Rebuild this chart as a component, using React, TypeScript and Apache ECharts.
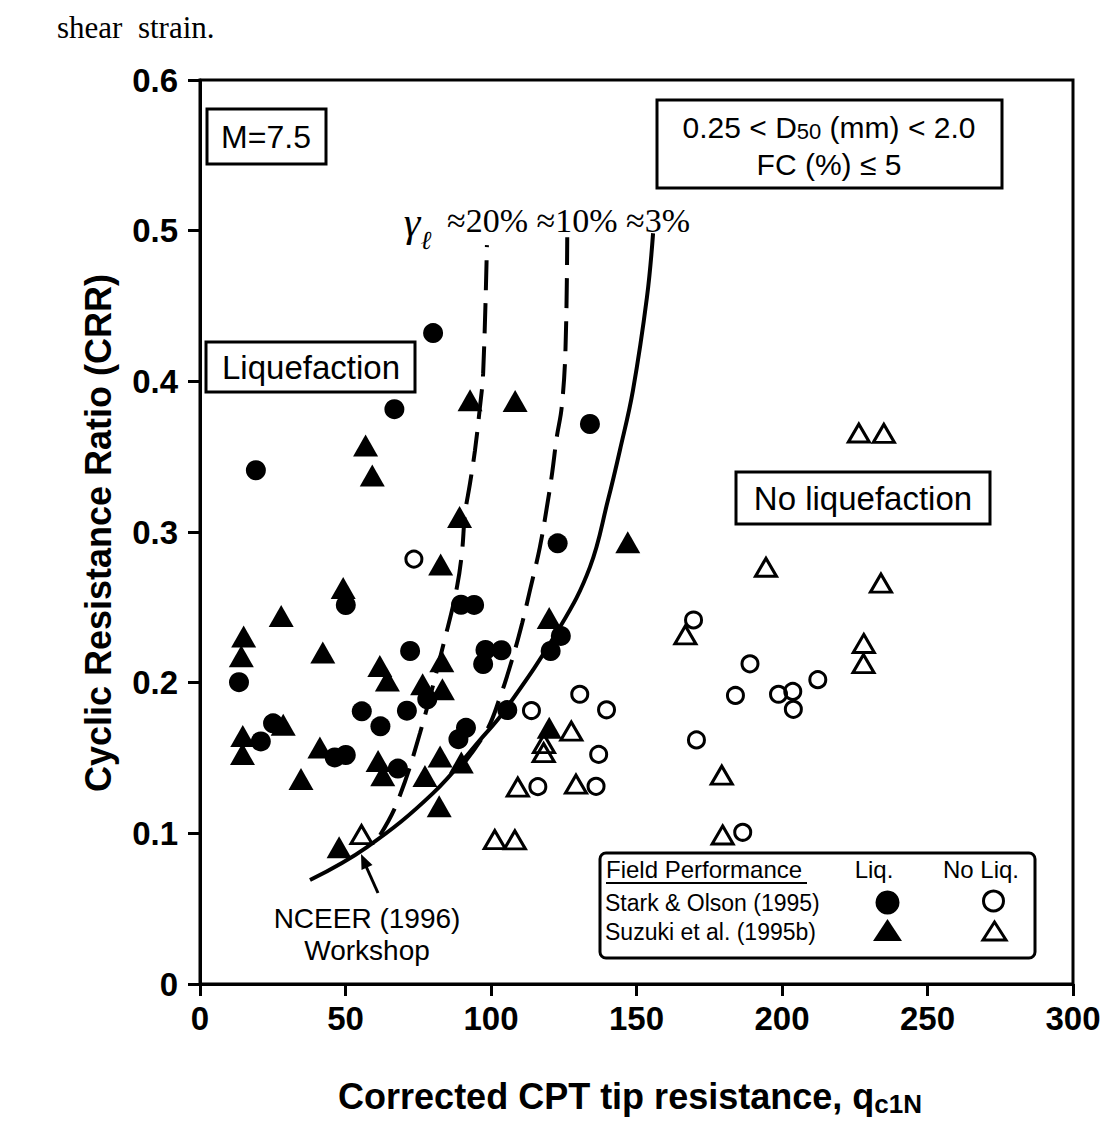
import React, { useEffect, useRef } from 'react';
import * as echarts from 'echarts';

const SANS = '"Liberation Sans", Arial, Helvetica, sans-serif';
const SERIF = '"Liberation Serif", "Times New Roman", serif';

// axes
const X_MIN = 0, X_MAX = 300, X_STEP = 50;
const Y_MIN = 0, Y_MAX = 0.6, Y_STEP = 0.1;

// Stark & Olson (1995) - liquefaction (filled circles)
const starkLiq: [number, number][] = [
  [80.1, 0.432], [66.8, 0.3815], [19.2, 0.341], [134, 0.3717], [122.9, 0.2925],
  [50.1, 0.2515], [89.7, 0.2517], [94.2, 0.2516], [124, 0.231], [120.5, 0.221],
  [98.1, 0.2217], [103.6, 0.2215], [97.3, 0.2124], [72.2, 0.221], [13.4, 0.2003],
  [78.1, 0.189], [55.6, 0.181], [71.1, 0.1814], [62, 0.171], [20.9, 0.161],
  [25.1, 0.173], [46.3, 0.1504], [50.1, 0.152], [68, 0.143], [91.4, 0.17],
  [88.8, 0.1625], [105.6, 0.1818],
];

// Suzuki et al. (1995b) - liquefaction (filled triangles)
const suzukiLiq: [number, number][] = [
  [92.8, 0.3875], [108.3, 0.387], [56.9, 0.3574], [59.2, 0.3375], [89.2, 0.31],
  [82.7, 0.2785], [147, 0.2932], [49.2, 0.2628], [27.9, 0.2442], [15, 0.2307],
  [14.2, 0.2175], [42.2, 0.22], [83.1, 0.2142], [61.8, 0.211], [64.4, 0.2015],
  [76.5, 0.199], [83.3, 0.1956], [120, 0.243], [14.7, 0.1646], [14.6, 0.1526],
  [28.6, 0.172], [34.7, 0.136], [41.2, 0.157], [61.2, 0.148], [62.8, 0.1386],
  [82.5, 0.151], [77.3, 0.138], [82.2, 0.118], [89.8, 0.147], [120, 0.17],
  [47.8, 0.0907],
];

// Stark & Olson (1995) - no liquefaction (open circles)
const starkNoLiq: [number, number][] = [
  [73.5, 0.282], [113.9, 0.1815], [130.5, 0.1923], [139.7, 0.182], [137, 0.1524],
  [116.1, 0.131], [136.1, 0.1312], [169.6, 0.2416], [189, 0.2125], [184, 0.1915],
  [198.8, 0.1923], [203.7, 0.1942], [203.9, 0.1823], [212.3, 0.202], [170.6, 0.162],
  [186.5, 0.1007],
];

// Suzuki et al. (1995b) - no liquefaction (open triangles)
const suzukiNoLiq: [number, number][] = [
  [226.4, 0.3657], [235, 0.3655], [194.5, 0.2766], [234, 0.2661], [166.8, 0.2317],
  [228.1, 0.226], [228, 0.2127], [127.6, 0.1679], [118.2, 0.1595], [118.1, 0.1536],
  [109.2, 0.1307], [129.2, 0.1327], [101.3, 0.0958], [108.2, 0.0956], [179.3, 0.1386],
  [179.6, 0.0989], [55.5, 0.0991],
];

// NCEER (1996) workshop curve (~3% limiting strain)
const nceerCurve: [number, number][] = [
  [37.8, 0.069], [57.4, 0.0909], [80.1, 0.1267], [96.2, 0.1619], [104.8, 0.1818],
  [123.7, 0.2369], [134, 0.2767], [140.2, 0.3212], [144.3, 0.3543], [148.8, 0.3942],
  [153.6, 0.4559], [155.7, 0.4983],
];

// ~10% limiting strain
const gamma10Curve: [number, number][] = [
  [90.5, 0.146], [98.6, 0.1685], [103.1, 0.1904], [107.2, 0.215], [110.7, 0.2395],
  [113.4, 0.2614], [116.8, 0.29], [119.2, 0.3165], [121, 0.339], [122.6, 0.363],
  [124.3, 0.3829], [125.6, 0.4216], [126.2, 0.4956],
];

// ~20% limiting strain
const gamma20Curve: [number, number][] = [
  [61.9, 0.0989], [67.7, 0.1201], [75.6, 0.1666], [84.9, 0.2349], [88.3, 0.2634],
  [90, 0.286], [91.1, 0.3125], [92.8, 0.3324], [94.5, 0.3543], [96.2, 0.3829],
  [97.3, 0.4054], [98.6, 0.4904],
];

const legendRows = ['Stark & Olson (1995)', 'Suzuki et al. (1995b)'];

function box(x: number, y: number, w: number, h: number, r = 0) {
  return {
    type: 'rect',
    shape: { x, y, width: w, height: h, r },
    style: { fill: 'none', stroke: '#000', lineWidth: 3 },
    z: 10,
  };
}

function txt(x: number, y: number, text: string, extra: any = {}) {
  return {
    type: 'text',
    x,
    y,
    z: 11,
    style: {
      text,
      fill: '#000',
      fontFamily: SANS,
      fontSize: 30,
      align: 'center',
      verticalAlign: 'middle',
      ...extra,
    },
  };
}

export default function App() {
  const ref = useRef<HTMLDivElement>(null);

  useEffect(() => {
    if (!ref.current) return;
    const chart = echarts.init(ref.current, null, { renderer: 'svg' });

    const axisCommon = {
      type: 'value',
      axisLine: { show: true, lineStyle: { color: '#000', width: 3 } },
      axisTick: { show: true, inside: false, length: 12, lineStyle: { color: '#000', width: 3 } },
      splitLine: { show: false },
    };

    const solid = { color: '#000', opacity: 1 };
    const hollow = { color: 'rgba(0,0,0,0)', borderColor: '#000', borderWidth: 3, opacity: 1 };

    const option: any = {
      animation: false,
      backgroundColor: '#fff',
      grid: {
        left: 200,
        right: 42,
        top: 80,
        bottom: 164,
        show: true,
        borderColor: '#000',
        borderWidth: 3,
        backgroundColor: 'transparent',
      },
      xAxis: {
        ...axisCommon,
        min: X_MIN,
        max: X_MAX,
        interval: X_STEP,
        axisLabel: { color: '#000', fontSize: 33, fontFamily: SANS, fontWeight: 'bold', margin: 18 },
      },
      yAxis: {
        ...axisCommon,
        min: Y_MIN,
        max: Y_MAX,
        interval: Y_STEP,
        axisLabel: {
          color: '#000', fontSize: 33, fontFamily: SANS, fontWeight: 'bold', margin: 22,
          formatter: (v: number) => (v === 0 ? '0' : v.toFixed(1)),
        },
      },
      series: [
        {
          type: 'line', data: nceerCurve, smooth: 0.4, symbol: 'none', silent: true,
          lineStyle: { color: '#000', width: 4 }, z: 3,
        },
        {
          type: 'line', data: gamma10Curve, smooth: 0.4, symbol: 'none', silent: true,
          lineStyle: { color: '#000', width: 4, type: [30, 13] }, z: 3,
        },
        {
          type: 'line', data: gamma20Curve, smooth: 0.4, symbol: 'none', silent: true,
          lineStyle: { color: '#000', width: 4, type: [30, 13] }, z: 3,
        },
        {
          type: 'scatter', data: starkLiq, symbol: 'circle', symbolSize: 20, silent: true,
          itemStyle: solid, z: 5,
        },
        {
          type: 'scatter', data: suzukiLiq, symbol: 'triangle', symbolSize: [25, 22], silent: true,
          itemStyle: solid, z: 5,
        },
        {
          type: 'scatter', data: starkNoLiq, symbol: 'circle', symbolSize: 16, silent: true,
          itemStyle: hollow, z: 5,
        },
        {
          type: 'scatter', data: suzukiNoLiq, symbol: 'triangle', symbolSize: [21, 18], silent: true,
          itemStyle: hollow, z: 5,
        },
      ],
      graphic: [
        // caption fragment above the chart
        txt(57, 27, 'shear  strain.', { fontFamily: SERIF, fontSize: 31, align: 'left' }),
        // M = 7.5
        box(207, 109, 119, 55),
        txt(266, 137, 'M=7.5', { fontSize: 32 }),
        // D50 box
        box(657, 100, 345, 88),
        txt(829, 127, '{a|0.25 < D}{s|50}{a| (mm) < 2.0}', {
          rich: {
            a: { fontSize: 30, fontFamily: SANS, fill: '#000' },
            s: { fontSize: 22, fontFamily: SANS, fill: '#000', padding: [8, 0, 0, 0] },
          },
        }),
        txt(829, 164, 'FC (%) ≤ 5', { fontSize: 30 }),
        // gamma labels
        txt(412, 222, 'γ', { fontFamily: SERIF, fontSize: 42, fontStyle: 'italic' }),
        txt(426, 240, 'ℓ', { fontFamily: SERIF, fontSize: 26, fontStyle: 'italic' }),
        txt(447, 220, '≈20% ≈10% ≈3%', { fontFamily: SERIF, fontSize: 34, align: 'left' }),
        // region labels
        box(206, 342, 209, 50),
        txt(311, 367, 'Liquefaction', { fontSize: 33 }),
        box(736, 472, 254, 52),
        txt(863, 498, 'No liquefaction', { fontSize: 33 }),
        // NCEER label and arrow
        txt(367, 918, 'NCEER (1996)', { fontSize: 28 }),
        txt(367, 950, 'Workshop', { fontSize: 28 }),
        {
          type: 'line', z: 11,
          shape: { x1: 378, y1: 893, x2: 365, y2: 864 },
          style: { stroke: '#000', lineWidth: 3 },
        },
        {
          type: 'polygon', z: 11,
          shape: { points: [[361, 854], [372.5, 865], [361.5, 870]] },
          style: { fill: '#000' },
        },
        // legend
        box(600, 853, 435, 105, 6),
        txt(606, 869, 'Field Performance', { fontSize: 24, align: 'left' }),
        {
          type: 'line', z: 11,
          shape: { x1: 606, y1: 883, x2: 807, y2: 883 },
          style: { stroke: '#000', lineWidth: 2 },
        },
        txt(874, 869, 'Liq.', { fontSize: 24 }),
        txt(981, 869, 'No Liq.', { fontSize: 24 }),
        txt(605, 903, legendRows[0], { fontSize: 23, align: 'left' }),
        txt(605, 932, legendRows[1], { fontSize: 23, align: 'left' }),
        {
          type: 'circle', z: 11,
          shape: { cx: 887.5, cy: 902.5, r: 12 },
          style: { fill: '#000' },
        },
        {
          type: 'circle', z: 11,
          shape: { cx: 993.5, cy: 901, r: 10 },
          style: { fill: 'none', stroke: '#000', lineWidth: 3 },
        },
        {
          type: 'polygon', z: 11,
          shape: { points: [[873, 941], [902, 941], [887.5, 919]] },
          style: { fill: '#000' },
        },
        {
          type: 'polygon', z: 11,
          shape: { points: [[983, 940], [1006, 940], [994.5, 922]] },
          style: { fill: 'none', stroke: '#000', lineWidth: 3 },
        },
        // axis titles
        {
          type: 'text', z: 11, x: 98, y: 533, rotation: Math.PI / 2,
          style: {
            text: 'Cyclic Resistance Ratio (CRR)', fill: '#000', fontFamily: SANS,
            fontSize: 36, fontWeight: 'bold', align: 'center', verticalAlign: 'middle',
          },
        },
        {
          type: 'text', z: 11, x: 630, y: 1096,
          style: {
            text: '{a|Corrected CPT tip resistance, q}{s|c1N}',
            align: 'center', verticalAlign: 'middle',
            rich: {
              a: { fontSize: 36, fontWeight: 'bold', fontFamily: SANS, fill: '#000' },
              s: { fontSize: 26, fontWeight: 'bold', fontFamily: SANS, fill: '#000', padding: [16, 0, 0, 0] },
            },
          },
        },
      ],
    };

    chart.setOption(option);
    return () => chart.dispose();
  }, []);

  return (
    <div
      ref={ref}
      style={{ position: 'absolute', left: 0, top: 0, width: 1115, height: 1148, background: '#fff' }}
    />
  );
}
